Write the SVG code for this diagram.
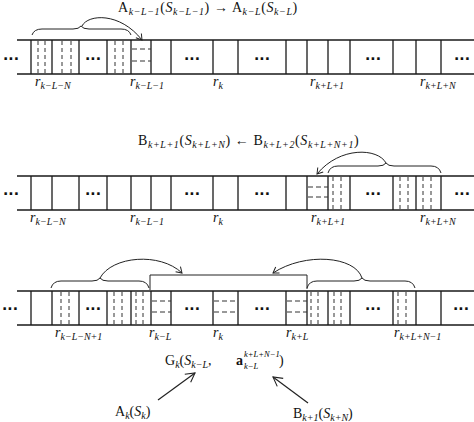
<svg xmlns="http://www.w3.org/2000/svg" width="474" height="422" viewBox="0 0 474 422">
<defs>
<style>
.ln{stroke:#1a1a1a;stroke-width:1.3;fill:none}
.dv{stroke:#333;stroke-width:1;stroke-dasharray:4 3;fill:none}
.dh{stroke:#333;stroke-width:1;stroke-dasharray:5 3;fill:none}
.cv{stroke:#222;stroke-width:1;fill:none}
.t{font-family:"Liberation Serif",serif;font-size:14px;fill:#111}
.i{font-style:italic}
.s{font-family:"Liberation Serif",serif;font-size:10px;font-style:italic}
.b{font-weight:bold}
.dots{font-family:"DejaVu Sans",sans-serif;font-weight:bold;font-size:14px;fill:#111;text-anchor:middle}
</style>
<marker id="ah" markerWidth="10" markerHeight="10" refX="7" refY="5" orient="auto" markerUnits="userSpaceOnUse">
<path d="M1.5,1.5 L7,5 L1.5,8.5" fill="none" stroke="#222" stroke-width="1"/>
</marker>
<marker id="ah2" markerWidth="14" markerHeight="14" refX="11" refY="7" orient="auto" markerUnits="userSpaceOnUse">
<path d="M2,2 L11,7 L2,12" fill="none" stroke="#222" stroke-width="1.1"/>
</marker>
</defs>

<!-- Row 1 -->
<g id="row1">
<path class="ln" d="M17,40 H474 M17,74 H474"/>
<path class="ln" d="M31,40V74 M52,40V74 M79,40V74 M107,40V74 M131,40V74 M151,40V74 M171,40V74 M213,40V74 M238,40V74 M286,40V74 M307,40V74 M328,40V74 M350,40V74 M393,40V74 M416,40V74 M441,40V74"/>
<path class="dv" d="M38,41V74 M45,41V74 M62,41V74 M71,41V74 M115,41V74 M123,41V74"/>
<path class="dh" d="M132,49H151 M132,61H151"/>
<g class="dots"><text x="11" y="64">···</text><text x="93" y="64">···</text><text x="192" y="64">···</text><text x="262" y="64">···</text><text x="373" y="64">···</text><text x="462" y="64">···</text></g>
<text class="t" x="118" y="12" style="letter-spacing:0.6px">A<tspan class="s" dy="3">k−L−1</tspan><tspan dy="-3">(</tspan><tspan class="i">S</tspan><tspan class="s" dy="3">k−L−1</tspan><tspan dy="-3">) → A</tspan><tspan class="s" dy="3">k−L</tspan><tspan dy="-3">(</tspan><tspan class="i">S</tspan><tspan class="s" dy="3">k−L</tspan><tspan dy="-3">)</tspan></text>
<text class="t i" x="35" y="86">r<tspan class="s" dy="3">k−L−N</tspan></text>
<text class="t i" x="130" y="86">r<tspan class="s" dy="3">k−L−1</tspan></text>
<text class="t i" x="213" y="86">r<tspan class="s" dy="3">k</tspan></text>
<text class="t i" x="310" y="86">r<tspan class="s" dy="3">k+L+1</tspan></text>
<text class="t i" x="420" y="86">r<tspan class="s" dy="3">k+L+N</tspan></text>
</g>

<!-- Row 2 -->
<g id="row2">
<path class="ln" d="M17,176 H474 M17,210 H474"/>
<path class="ln" d="M31,176V210 M52,176V210 M79,176V210 M107,176V210 M131,176V210 M151,176V210 M171,176V210 M213,176V210 M238,176V210 M286,176V210 M307,176V210 M328,176V210 M350,176V210 M393,176V210 M416,176V210 M441,176V210"/>
<path class="dh" d="M308,187H328 M308,197H328"/>
<path class="dv" d="M333,177V210 M341,177V210 M400,177V210 M408,177V210 M423,177V210 M431,177V210"/>
<g class="dots"><text x="11" y="199">···</text><text x="93" y="199">···</text><text x="192" y="199">···</text><text x="262" y="199">···</text><text x="373" y="199">···</text><text x="462" y="199">···</text></g>
<text class="t" x="138" y="145" style="letter-spacing:0.6px">B<tspan class="s" dy="3">k+L+1</tspan><tspan dy="-3">(</tspan><tspan class="i">S</tspan><tspan class="s" dy="3">k+L+N</tspan><tspan dy="-3">) ← B</tspan><tspan class="s" dy="3">k+L+2</tspan><tspan dy="-3">(</tspan><tspan class="i">S</tspan><tspan class="s" dy="3">k+L+N+1</tspan><tspan dy="-3">)</tspan></text>
<text class="t i" x="30" y="222">r<tspan class="s" dy="3">k−L−N</tspan></text>
<text class="t i" x="130" y="222">r<tspan class="s" dy="3">k−L−1</tspan></text>
<text class="t i" x="213" y="222">r<tspan class="s" dy="3">k</tspan></text>
<text class="t i" x="311" y="222">r<tspan class="s" dy="3">k+L+1</tspan></text>
<text class="t i" x="420" y="222">r<tspan class="s" dy="3">k+L+N</tspan></text>
</g>

<!-- Row 3 -->
<g id="row3">
<path class="ln" d="M17,291 H474 M17,325 H474"/>
<path class="ln" d="M31,291V325 M52,291V325 M79,291V325 M107,291V325 M131,291V325 M151,291V325 M171,291V325 M213,291V325 M238,291V325 M286,291V325 M307,291V325 M328,291V325 M350,291V325 M393,291V325 M416,291V325 M441,291V325"/>
<path class="dv" d="M61,292V325 M69,292V325 M114,292V325 M122,292V325 M136,292V325 M143,292V325 M311,292V325 M318,292V325 M334,292V325 M341,292V325 M398,292V325 M406,292V325"/>
<path class="dh" d="M152,301H171 M152,312H171 M214,301H238 M214,312H238 M287,301H307 M287,312H307"/>
<g class="dots"><text x="10" y="314">···</text><text x="93" y="314">···</text><text x="192" y="314">···</text><text x="262" y="314">···</text><text x="373" y="314">···</text><text x="461" y="314">···</text></g>
<text class="t i" x="55" y="337">r<tspan class="s" dy="3">k−L−N+1</tspan></text>
<text class="t i" x="149" y="337">r<tspan class="s" dy="3">k−L</tspan></text>
<text class="t i" x="213" y="337">r<tspan class="s" dy="3">k</tspan></text>
<text class="t i" x="286" y="337">r<tspan class="s" dy="3">k+L</tspan></text>
<text class="t i" x="394" y="337">r<tspan class="s" dy="3">k+L+N−1</tspan></text>
</g>

<!-- Bottom nodes -->
<g id="G">
<text class="t" x="165" y="365">G<tspan class="s" dy="3">k</tspan><tspan dy="-3">(</tspan><tspan class="i">S</tspan><tspan class="s" dy="3">k−L</tspan><tspan dy="-3">,</tspan></text>
<text class="t b" x="236" y="365">a</text>
<text class="s" x="244" y="357" style="font-size:8.5px">k+L+N−1</text>
<text class="s" x="244" y="369" style="font-size:8.5px">k−L</text>
<text class="t" x="279" y="365">)</text>
</g>
<g id="Ak">
<text class="t" x="115" y="416">A<tspan class="s" dy="2.5">k</tspan><tspan dy="-2.5">(</tspan><tspan class="i">S</tspan><tspan class="s" dy="2.5">k</tspan><tspan dy="-2.5">)</tspan></text>
</g>
<g id="Bk">
<text class="t" x="293" y="418">B<tspan class="s" dy="2.5">k+1</tspan><tspan dy="-2.5">(</tspan><tspan class="i">S</tspan><tspan class="s" dy="2.5">k+N</tspan><tspan dy="-2.5">)</tspan></text>
</g>

<!-- Connectors -->
<g id="connectors">
<path class="cv" d="M32,35 Q34,29 42,29 L73,29 Q79,29 81,26 Q83,29 89,29 L121,29 Q129,29 131,35"/>
<path class="cv" marker-end="url(#ah)" d="M82,26 C88,14 120,12 142,40"/>
<path class="cv" d="M328,173 Q330,166 338,166 L378,166 Q384,166 386,163 Q388,166 394,166 L431,166 Q439,166 441,173"/>
<path class="cv" marker-end="url(#ah)" d="M386,163 C378,148 340,146 317,174"/>
<path class="cv" d="M51,288 Q53,281 61,281 L92,281 Q98,281 100,278 Q102,281 108,281 L139,281 Q147,281 149,288"/>
<path class="cv" d="M307,288 Q309,281 317,281 L354,281 Q360,281 362,278 Q364,281 370,281 L405,281 Q413,281 415,288"/>
<path class="cv" d="M150,290 V275 H307 V289"/>
<path class="cv" marker-end="url(#ah)" d="M100,278 C112,256 160,252 182,273"/>
<path class="cv" marker-end="url(#ah)" d="M362,278 C355,256 305,252 273,273"/>
<path class="cv" style="stroke-width:1.2" marker-end="url(#ah2)" d="M158,400 L195,373"/>
<path class="cv" style="stroke-width:1.2" marker-end="url(#ah2)" d="M308,403 L273,377"/>
</g>
</svg>
